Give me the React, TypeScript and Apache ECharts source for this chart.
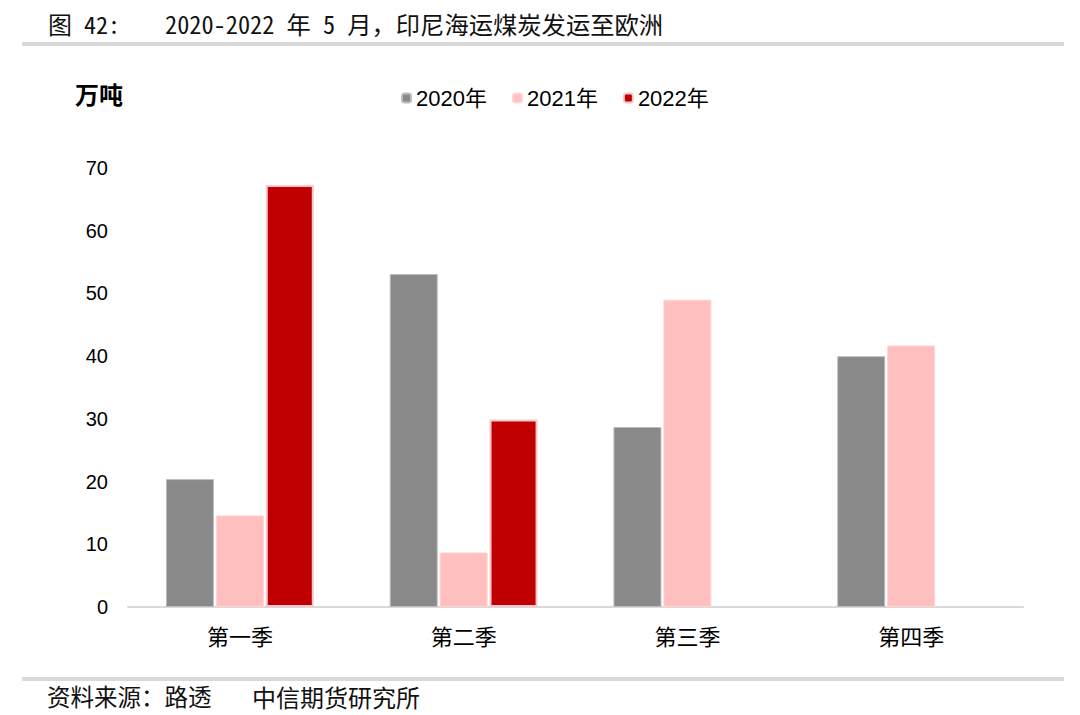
import React, { useEffect, useRef } from "react";
import * as echarts from "echarts";

const categories = ["第一季", "第二季", "第三季", "第四季"];
const seriesNames = ["2020年", "2021年", "2022年"];
const values2020 = [20.4, 53.1, 28.7, 40.0];
const values2021 = [14.6, 8.7, 49.0, 41.7];
const values2022: (number | null)[] = [67.3, 29.9, null, null];
const yTicks = { min: 0, max: 70, interval: 10 };

const titleLabel = "图 42:";
const titleText = "2020-2022 年 5 月，印尼海运煤炭发运至欧洲";
const unitText = "万吨";
const sourceText = "资料来源：路透";
const sourceOrg = "中信期货研究所";

const FONT = "'Liberation Sans', Arial, 'Noto Sans CJK SC', sans-serif";
const CJK = "'Noto Sans CJK SC', sans-serif";
const MONO = "'Noto Sans Mono CJK SC', 'Noto Sans CJK SC', monospace";

export default function App() {
  const ref = useRef<HTMLDivElement>(null);
  useEffect(() => {
    if (!ref.current) return;
    const chart = echarts.init(ref.current, null, { renderer: "svg" });
    chart.setOption({
      animation: false,
      backgroundColor: "#ffffff",
      textStyle: { fontFamily: FONT },
      grid: { left: 128, right: 57, top: 168, bottom: 108, containLabel: false },
      legend: {
        data: seriesNames,
        left: 396,
        top: 82,
        itemWidth: 9,
        itemHeight: 9,
        itemGap: 25,
        textStyle: { fontSize: 22, color: "#000", fontFamily: FONT },
      },
      xAxis: {
        type: "category",
        data: categories,
        axisLine: { lineStyle: { color: "#d9d9d9", width: 2 } },
        axisTick: { show: false },
        axisLabel: { fontSize: 22, color: "#000", margin: 17, fontFamily: CJK },
      },
      yAxis: {
        type: "value",
        min: yTicks.min,
        max: yTicks.max,
        interval: yTicks.interval,
        axisLine: { show: false },
        axisTick: { show: false },
        splitLine: { show: false },
        axisLabel: { fontSize: 20, color: "#000", margin: 20, fontFamily: FONT },
      },
      series: [
        {
          name: seriesNames[0],
          type: "bar",
          data: values2020,
          barWidth: 48,
          barGap: "4%",
          itemStyle: { color: "#898989", borderColor: "#bdbdbd", borderWidth: 1 },
        },
        {
          name: seriesNames[1],
          type: "bar",
          data: values2021,
          barWidth: 48,
          barGap: "4%",
          itemStyle: { color: "#ffbfbf", borderColor: "#ffd4d4", borderWidth: 1 },
        },
        {
          name: seriesNames[2],
          type: "bar",
          data: values2022,
          barWidth: 48,
          barGap: "4%",
          itemStyle: { color: "#c00000", borderColor: "#f6c8cb", borderWidth: 2 },
        },
      ],
      graphic: [
        {
          type: "text",
          left: 48,
          top: 11,
          style: { text: titleLabel, fontSize: 24, fill: "#111", fontFamily: MONO },
        },
        {
          type: "text",
          left: 165,
          top: 11,
          style: { text: titleText, fontSize: 24.3, fill: "#111", fontFamily: MONO },
        },
        {
          type: "rect",
          shape: { x: 22, y: 42, width: 1042, height: 4 },
          style: { fill: "#d9d9d9" },
        },
        {
          type: "text",
          left: 75,
          top: 81,
          style: { text: unitText, fontSize: 24, fontWeight: "bold", fill: "#000", fontFamily: CJK },
        },
        {
          type: "rect",
          shape: { x: 22, y: 677, width: 1042, height: 4 },
          style: { fill: "#d9d9d9" },
        },
        {
          type: "text",
          left: 47,
          top: 684,
          style: { text: sourceText, fontSize: 23.5, fill: "#111", fontFamily: MONO },
        },
        {
          type: "text",
          left: 252,
          top: 684,
          style: { text: sourceOrg, fontSize: 24, fill: "#111", fontFamily: MONO },
        },
      ],
    });
    return () => chart.dispose();
  }, []);
  return <div ref={ref} style={{ width: 1080, height: 715, position: "absolute", left: 0, top: 0 }} />;
}
